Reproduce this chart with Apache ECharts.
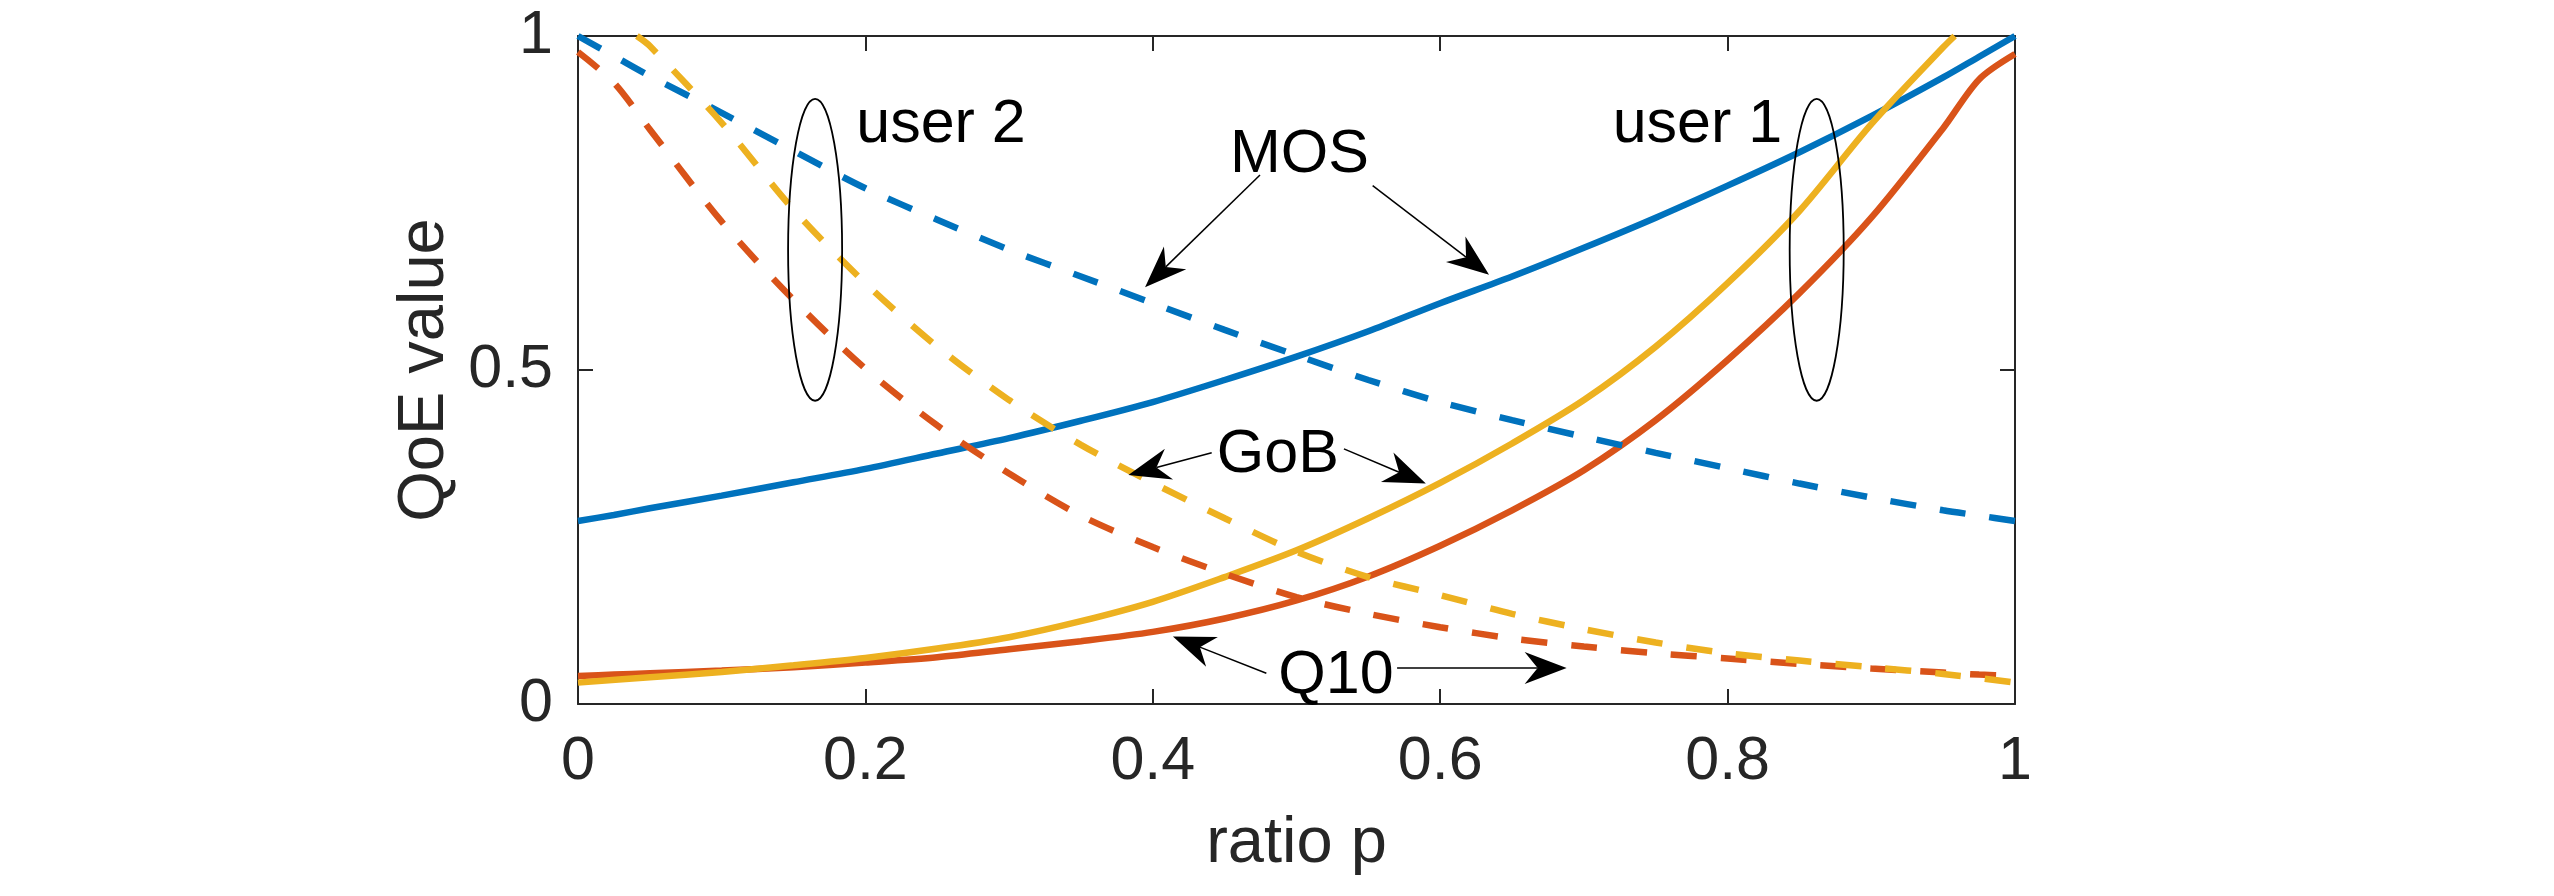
<!DOCTYPE html>
<html>
<head>
<meta charset="utf-8">
<title>QoE value vs ratio p</title>
<script src="https://cdn.jsdelivr.net/npm/echarts@6/dist/echarts.min.js"></script>
<style>
  html, body { margin: 0; padding: 0; background: #fff; }
  #main { width: 2554px; height: 896px; }
</style>
</head>
<body>
<div id="main"></div>
<script>
// ratio p (shared x values)
var P = [0, 0.025, 0.05, 0.1, 0.15, 0.2, 0.25, 0.3, 0.35, 0.4, 0.45, 0.5,
         0.55, 0.6, 0.65, 0.7, 0.75, 0.8, 0.85, 0.9, 0.95, 0.975, 1];

// MOS
var mosUser1 = [0.274, 0.283, 0.293, 0.312, 0.332, 0.352, 0.375, 0.398, 0.424, 0.452, 0.485, 0.52,
                0.558, 0.6, 0.64, 0.683, 0.728, 0.776, 0.826, 0.88, 0.938, 0.969, 1.0];
var mosUser2 = [1.0, 0.97, 0.94, 0.885, 0.828, 0.772, 0.725, 0.68, 0.64, 0.6, 0.56, 0.522,
                0.485, 0.452, 0.425, 0.4, 0.376, 0.353, 0.33, 0.309, 0.29, 0.282, 0.274];

// Q10
var q10User1 = [0.042, 0.044, 0.046, 0.05, 0.055, 0.062, 0.07, 0.082, 0.094, 0.108, 0.128, 0.155,
                0.191, 0.237, 0.29, 0.35, 0.425, 0.515, 0.615, 0.728, 0.862, 0.935, 0.973];
var q10User2 = [0.976, 0.93, 0.86, 0.722, 0.605, 0.502, 0.417, 0.345, 0.282, 0.235, 0.195, 0.16,
                0.135, 0.115, 0.098, 0.086, 0.076, 0.068, 0.06, 0.053, 0.047, 0.044, 0.042];

// GoB (leaves the plot at the top, so own x values)
var pGob1 = [0, 0.05, 0.1, 0.15, 0.2, 0.25, 0.3, 0.35, 0.4, 0.45, 0.5,
             0.55, 0.6, 0.65, 0.7, 0.75, 0.8, 0.85, 0.9, 0.95, 0.958];
var gobUser1 = [0.032, 0.04, 0.048, 0.058, 0.069, 0.083, 0.1, 0.124, 0.153, 0.19, 0.23,
                0.278, 0.331, 0.39, 0.455, 0.535, 0.63, 0.738, 0.868, 0.983, 1.0];
var pGob2 = [0.041, 0.05, 0.1, 0.15, 0.2, 0.25, 0.3, 0.35, 0.4, 0.45, 0.5,
             0.55, 0.6, 0.65, 0.7, 0.75, 0.8, 0.85, 0.9, 0.95, 1];
var gobUser2 = [1.0, 0.985, 0.87, 0.74, 0.63, 0.535, 0.455, 0.388, 0.331, 0.278, 0.228,
                0.19, 0.163, 0.135, 0.112, 0.092, 0.076, 0.065, 0.055, 0.045, 0.032];

// annotations (data coordinates)
var noteText = ['MOS', 'GoB', 'Q10', 'user 2', 'user 1'];
var noteP    = [0.502, 0.487, 0.5275, 0.2526, 0.779];
var noteV    = [0.826, 0.377, 0.046, 0.871, 0.871];

var arrowFrom = [[0.4746, 0.792], [0.553, 0.776], [0.441, 0.376], [0.533, 0.382], [0.479, 0.046], [0.570, 0.054]];
var arrowTo   = [[0.3946, 0.624], [0.634, 0.6425], [0.383, 0.343], [0.590, 0.330], [0.414, 0.101], [0.688, 0.054]];

var ellipseCenter = [[0.165, 0.68], [0.862, 0.68]];
var ellipseRadius = [0.0188, 0.226];

var BLUE = '#0072BD', RED = '#D95319', YELLOW = '#EDB120';
var FONT = '"Liberation Sans", Arial, Helvetica, sans-serif';
var AXIS = '#262626';

function pairs(xs, ys) {
    return xs.map(function (x, i) { return [x, ys[i]]; });
}

function lineSeries(name, xs, ys, color, dashed) {
    return {
        name: name,
        type: 'line',
        data: pairs(xs, ys),
        showSymbol: false,
        smooth: 0.3,
        lineStyle: {
            color: color,
            width: 6.5,
            type: dashed ? [26, 24] : 'solid',
            cap: 'butt'
        },
        emphasis: { disabled: true },
        silent: true
    };
}

function axisX(pos, withLabels) {
    return {
        type: 'value', min: 0, max: 1, interval: 0.2, position: pos,
        name: withLabels ? 'ratio p' : '',
        nameLocation: 'middle',
        nameGap: 108,
        nameTextStyle: { fontSize: 65, color: AXIS, fontFamily: FONT },
        axisLine: { show: true, onZero: false, lineStyle: { color: AXIS, width: 2 } },
        axisTick: { show: true, inside: true, length: 15, lineStyle: { color: AXIS, width: 2 } },
        axisLabel: { show: withLabels, fontSize: 61, color: AXIS, margin: 28, fontFamily: FONT },
        splitLine: { show: false }
    };
}

function axisY(pos, withLabels) {
    return {
        type: 'value', min: 0, max: 1, interval: 0.5, position: pos,
        name: withLabels ? 'QoE value' : '',
        nameLocation: 'middle',
        nameRotate: 90,
        nameGap: 120,
        nameTextStyle: { fontSize: 65, color: AXIS, fontFamily: FONT },
        axisLine: { show: true, onZero: false, lineStyle: { color: AXIS, width: 2 } },
        axisTick: { show: true, inside: true, length: 15, lineStyle: { color: AXIS, width: 2 } },
        axisLabel: { show: withLabels, fontSize: 61, color: AXIS, margin: 25, fontFamily: FONT },
        splitLine: { show: false }
    };
}

var chart = echarts.init(document.getElementById('main'));

chart.setOption({
    animation: false,
    backgroundColor: '#fff',
    grid: { left: 578, right: 539, top: 36, bottom: 192 },
    xAxis: [axisX('bottom', true), axisX('top', false)],
    yAxis: [axisY('left', true), axisY('right', false)],
    series: [
        lineSeries('MOS user 1', P, mosUser1, BLUE, false),
        lineSeries('Q10 user 1', P, q10User1, RED, false),
        lineSeries('GoB user 1', pGob1, gobUser1, YELLOW, false),
        lineSeries('MOS user 2', P, mosUser2, BLUE, true),
        lineSeries('Q10 user 2', P, q10User2, RED, true),
        lineSeries('GoB user 2', pGob2, gobUser2, YELLOW, true)
    ]
});

// annotations: text, arrows and ellipses placed by data coordinates
function px(pt) {
    return chart.convertToPixel({ xAxisIndex: 0, yAxisIndex: 0 }, pt);
}

var graphics = [];

noteText.forEach(function (t, i) {
    var c = px([noteP[i], noteV[i]]);
    graphics.push({
        type: 'text', silent: true, z: 10,
        style: {
            text: t, x: c[0], y: c[1] + 3,
            font: '61px ' + FONT, fill: '#000',
            align: 'center', verticalAlign: 'middle'
        }
    });
});

arrowFrom.forEach(function (from, i) {
    var a = px(from), b = px(arrowTo[i]);
    var dx = b[0] - a[0], dy = b[1] - a[1];
    var len = Math.sqrt(dx * dx + dy * dy);
    var ux = dx / len, uy = dy / len;
    var nx = -uy, ny = ux;
    var headL = 42, headW = 16, notch = 13;
    var back = [b[0] - ux * headL, b[1] - uy * headL];
    var mid = [b[0] - ux * (headL - notch), b[1] - uy * (headL - notch)];
    graphics.push({
        type: 'line', silent: true, z: 10,
        shape: { x1: a[0], y1: a[1], x2: mid[0], y2: mid[1] },
        style: { stroke: '#000', lineWidth: 1.5 }
    });
    graphics.push({
        type: 'polygon', silent: true, z: 10,
        shape: { points: [b, [back[0] + nx * headW, back[1] + ny * headW], mid, [back[0] - nx * headW, back[1] - ny * headW]] },
        style: { fill: '#000' }
    });
});

ellipseCenter.forEach(function (c) {
    var ctr = px(c);
    var edge = px([c[0] + ellipseRadius[0], c[1] + ellipseRadius[1]]);
    graphics.push({
        type: 'ellipse', silent: true, z: 10,
        shape: { cx: ctr[0], cy: ctr[1], rx: Math.abs(edge[0] - ctr[0]), ry: Math.abs(edge[1] - ctr[1]) },
        style: { fill: 'none', stroke: '#000', lineWidth: 1.8 }
    });
});

chart.setOption({ graphic: graphics });
</script>
</body>
</html>
